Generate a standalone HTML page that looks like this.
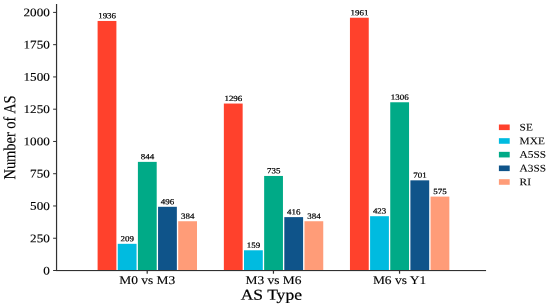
<!DOCTYPE html>
<html><head><meta charset="utf-8"><title>AS Type chart</title>
<style>html,body{margin:0;padding:0;background:#fff}svg{display:block}</style></head>
<body>
<svg width="550" height="306" viewBox="0 0 550 306" font-family="'Liberation Serif', 'Times New Roman', serif" fill="#000" text-rendering="geometricPrecision">
<rect width="550" height="306" fill="#fff"/>
<rect x="97.60" y="20.96" width="18.80" height="249.24" fill="#FF412C"/>
<text transform="translate(107.10,18.36) rotate(0.03) scale(1.134,1)" font-size="7.9" text-anchor="middle" stroke="#000" stroke-width="0.2">1936</text>
<rect x="117.75" y="243.83" width="18.80" height="26.37" fill="#00BBE0"/>
<text transform="translate(127.25,241.23) rotate(0.03) scale(1.134,1)" font-size="7.9" text-anchor="middle" stroke="#000" stroke-width="0.2">209</text>
<rect x="137.90" y="161.88" width="18.80" height="108.32" fill="#00AA87"/>
<text transform="translate(147.40,159.28) rotate(0.03) scale(1.134,1)" font-size="7.9" text-anchor="middle" stroke="#000" stroke-width="0.2">844</text>
<rect x="158.05" y="206.79" width="18.80" height="63.41" fill="#0F548A"/>
<text transform="translate(167.55,204.19) rotate(0.03) scale(1.134,1)" font-size="7.9" text-anchor="middle" stroke="#000" stroke-width="0.2">496</text>
<rect x="178.20" y="221.24" width="18.80" height="48.96" fill="#FF9C78"/>
<text transform="translate(187.70,218.64) rotate(0.03) scale(1.134,1)" font-size="7.9" text-anchor="middle" stroke="#000" stroke-width="0.2">384</text>
<rect x="223.85" y="103.55" width="18.80" height="166.65" fill="#FF412C"/>
<text transform="translate(233.35,100.95) rotate(0.03) scale(1.134,1)" font-size="7.9" text-anchor="middle" stroke="#000" stroke-width="0.2">1296</text>
<rect x="244.00" y="250.28" width="18.80" height="19.92" fill="#00BBE0"/>
<text transform="translate(253.50,247.68) rotate(0.03) scale(1.134,1)" font-size="7.9" text-anchor="middle" stroke="#000" stroke-width="0.2">159</text>
<rect x="264.15" y="175.95" width="18.80" height="94.25" fill="#00AA87"/>
<text transform="translate(273.65,173.35) rotate(0.03) scale(1.134,1)" font-size="7.9" text-anchor="middle" stroke="#000" stroke-width="0.2">735</text>
<rect x="284.30" y="217.12" width="18.80" height="53.08" fill="#0F548A"/>
<text transform="translate(293.80,214.52) rotate(0.03) scale(1.134,1)" font-size="7.9" text-anchor="middle" stroke="#000" stroke-width="0.2">416</text>
<rect x="304.45" y="221.24" width="18.80" height="48.96" fill="#FF9C78"/>
<text transform="translate(313.95,218.64) rotate(0.03) scale(1.134,1)" font-size="7.9" text-anchor="middle" stroke="#000" stroke-width="0.2">384</text>
<rect x="349.95" y="17.73" width="18.80" height="252.47" fill="#FF412C"/>
<text transform="translate(359.45,15.13) rotate(0.03) scale(1.134,1)" font-size="7.9" text-anchor="middle" stroke="#000" stroke-width="0.2">1961</text>
<rect x="370.10" y="216.21" width="18.80" height="53.99" fill="#00BBE0"/>
<text transform="translate(379.60,213.61) rotate(0.03) scale(1.134,1)" font-size="7.9" text-anchor="middle" stroke="#000" stroke-width="0.2">423</text>
<rect x="390.25" y="102.26" width="18.80" height="167.94" fill="#00AA87"/>
<text transform="translate(399.75,99.66) rotate(0.03) scale(1.134,1)" font-size="7.9" text-anchor="middle" stroke="#000" stroke-width="0.2">1306</text>
<rect x="410.40" y="180.34" width="18.80" height="89.86" fill="#0F548A"/>
<text transform="translate(419.90,177.74) rotate(0.03) scale(1.134,1)" font-size="7.9" text-anchor="middle" stroke="#000" stroke-width="0.2">701</text>
<rect x="430.55" y="196.60" width="18.80" height="73.60" fill="#FF9C78"/>
<text transform="translate(440.05,194.00) rotate(0.03) scale(1.134,1)" font-size="7.9" text-anchor="middle" stroke="#000" stroke-width="0.2">575</text>
<rect x="55.95" y="4" width="1.2" height="267" fill="#303030"/>
<rect x="55.95" y="270" width="430.1" height="1.1" fill="#303030"/>
<rect x="53.1" y="270.00" width="3" height="1" fill="#303030"/>
<text transform="translate(49.80,274.40) rotate(0.03) scale(1.125,1)" font-size="11.7" text-anchor="end" stroke="#000" stroke-width="0.13">0</text>
<rect x="53.1" y="237.74" width="3" height="1" fill="#303030"/>
<text transform="translate(49.80,242.14) rotate(0.03) scale(1.125,1)" font-size="11.7" text-anchor="end" stroke="#000" stroke-width="0.13">250</text>
<rect x="53.1" y="205.47" width="3" height="1" fill="#303030"/>
<text transform="translate(49.80,209.88) rotate(0.03) scale(1.125,1)" font-size="11.7" text-anchor="end" stroke="#000" stroke-width="0.13">500</text>
<rect x="53.1" y="173.21" width="3" height="1" fill="#303030"/>
<text transform="translate(49.80,177.61) rotate(0.03) scale(1.125,1)" font-size="11.7" text-anchor="end" stroke="#000" stroke-width="0.13">750</text>
<rect x="53.1" y="140.95" width="3" height="1" fill="#303030"/>
<text transform="translate(49.80,145.35) rotate(0.03) scale(1.125,1)" font-size="11.7" text-anchor="end" stroke="#000" stroke-width="0.13">1000</text>
<rect x="53.1" y="108.69" width="3" height="1" fill="#303030"/>
<text transform="translate(49.80,113.09) rotate(0.03) scale(1.125,1)" font-size="11.7" text-anchor="end" stroke="#000" stroke-width="0.13">1250</text>
<rect x="53.1" y="76.43" width="3" height="1" fill="#303030"/>
<text transform="translate(49.80,80.83) rotate(0.03) scale(1.125,1)" font-size="11.7" text-anchor="end" stroke="#000" stroke-width="0.13">1500</text>
<rect x="53.1" y="44.16" width="3" height="1" fill="#303030"/>
<text transform="translate(49.80,48.56) rotate(0.03) scale(1.125,1)" font-size="11.7" text-anchor="end" stroke="#000" stroke-width="0.13">1750</text>
<rect x="53.1" y="11.90" width="3" height="1" fill="#303030"/>
<text transform="translate(49.80,16.30) rotate(0.03) scale(1.125,1)" font-size="11.7" text-anchor="end" stroke="#000" stroke-width="0.13">2000</text>
<rect x="146.60" y="270.5" width="1.2" height="3.2" fill="#303030"/>
<text transform="translate(147.20,284.10) rotate(0.03) scale(1.14,1)" font-size="11.8" text-anchor="middle" stroke="#000" stroke-width="0.13">M0 vs M3</text>
<rect x="272.85" y="270.5" width="1.2" height="3.2" fill="#303030"/>
<text transform="translate(273.45,284.10) rotate(0.03) scale(1.14,1)" font-size="11.8" text-anchor="middle" stroke="#000" stroke-width="0.13">M3 vs M6</text>
<rect x="398.95" y="270.5" width="1.2" height="3.2" fill="#303030"/>
<text transform="translate(399.55,284.10) rotate(0.03) scale(1.14,1)" font-size="11.8" text-anchor="middle" stroke="#000" stroke-width="0.13">M6 vs Y1</text>
<text transform="translate(271.30,299.70) rotate(0.03) scale(1.155,1)" font-size="15.2" text-anchor="middle" stroke="#000" stroke-width="0.2">AS Type</text>
<text transform="translate(15.35,137.45) rotate(-90.03) scale(1,1.176)" font-size="14.43" text-anchor="middle" stroke="#000" stroke-width="0.1">Number of AS</text>
<rect x="498.9" y="124.50" width="10.8" height="5.6" fill="#FF412C"/>
<text transform="translate(519.60,130.50) rotate(0.03) scale(1.126,1)" font-size="10.1" text-anchor="start" stroke="#000" stroke-width="0.08">SE</text>
<rect x="498.9" y="138.17" width="10.8" height="5.6" fill="#00BBE0"/>
<text transform="translate(519.60,144.17) rotate(0.03) scale(1.126,1)" font-size="10.1" text-anchor="start" stroke="#000" stroke-width="0.08">MXE</text>
<rect x="498.9" y="151.84" width="10.8" height="5.6" fill="#00AA87"/>
<text transform="translate(519.60,157.84) rotate(0.03) scale(1.126,1)" font-size="10.1" text-anchor="start" stroke="#000" stroke-width="0.08">A5SS</text>
<rect x="498.9" y="165.51" width="10.8" height="5.6" fill="#0F548A"/>
<text transform="translate(519.60,171.51) rotate(0.03) scale(1.126,1)" font-size="10.1" text-anchor="start" stroke="#000" stroke-width="0.08">A3SS</text>
<rect x="498.9" y="179.18" width="10.8" height="5.6" fill="#FF9C78"/>
<text transform="translate(519.60,185.18) rotate(0.03) scale(1.126,1)" font-size="10.1" text-anchor="start" stroke="#000" stroke-width="0.08">RI</text>
</svg>
</body></html>
